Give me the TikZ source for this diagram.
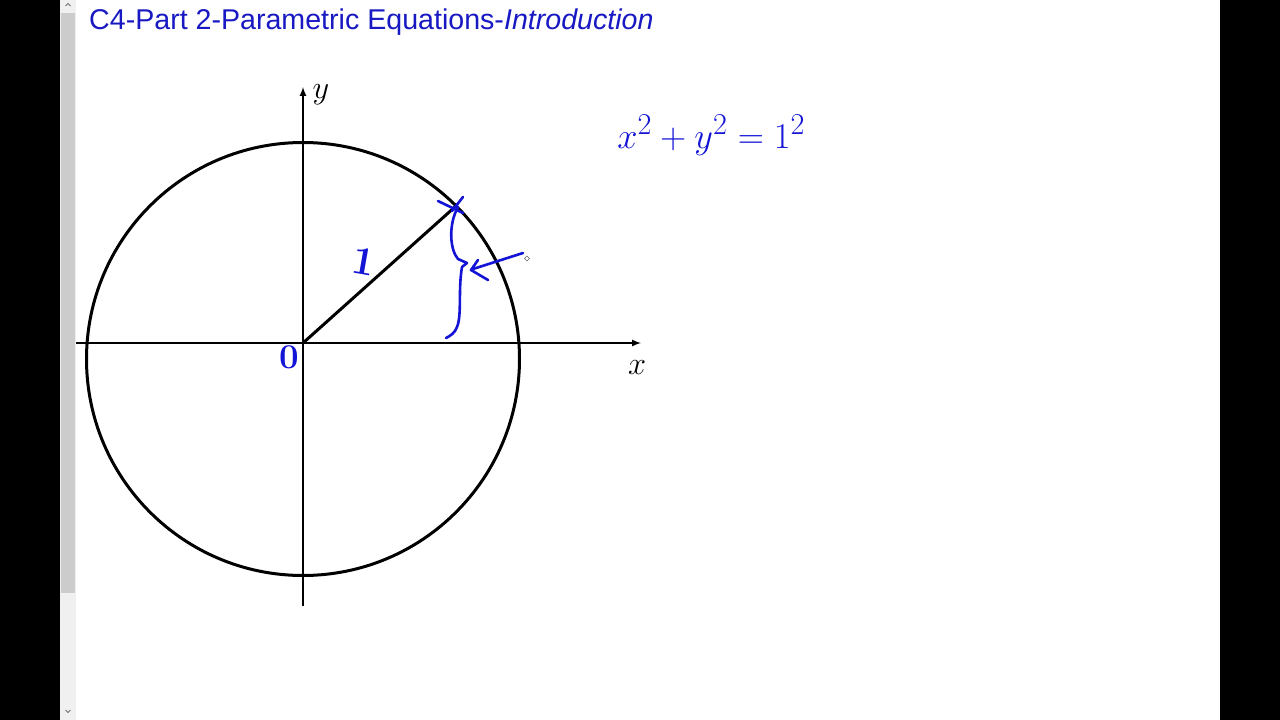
\documentclass[tikz,border=0pt]{standalone}
\usepackage{fontspec}
\usepackage{tikz}
\newfontfamily\arialfont{Liberation Sans}
\definecolor{titleblue}{RGB}{25,25,195}
\definecolor{penblue}{RGB}{20,20,215}

\begin{document}
\begin{tikzpicture}[x=1pt,y=-1pt,auto]

    % screen frame
    \fill[black] (0,0) rectangle (1280,720);
    \fill[white] (60,0) rectangle (1220,720);
    \fill[black!6] (60,0) rectangle (76,720);
    \fill[black!20] (61,13) rectangle (75,593);
    \draw[black!55, line width=0.8pt] (65.5,6) -- (68,3.5) -- (70.5,6);
    \draw[black!55, line width=0.8pt] (65.5,710) -- (68,712.5) -- (70.5,710);

    \node[anchor=base west, text=titleblue, font=\arialfont\fontsize{28.6}{32}\selectfont, inner sep=0pt] (title) at (89,29) {C4-Part 2-Parametric Equations-\textit{Introduction}};

    \coordinate (o) at (303,343);
    \coordinate (c) at (303,359);
    \coordinate (xl) at (76,343);
    \coordinate (xr) at (641,343);
    \coordinate (yb) at (303,606);
    \coordinate (yt) at (303,87);
    \coordinate (p) at (456,206);

    \draw[line width=3pt] (c) circle[radius=216.5pt];
    \draw[line width=2pt, -latex] (xl) to (xr);
    \draw[line width=2pt, -latex] (yb) to (yt);
    \draw[line width=3pt] (o) to (p);

    \node[font=\fontsize{24.88}{30}\selectfont, scale=1.3] (ylab) at (321,95) {$y$};
    \node[font=\fontsize{24.88}{30}\selectfont, scale=1.3] (xlab) at (637,368) {$x$};
    \node[text=penblue, font=\bfseries\fontsize{24.88}{30}\selectfont, scale=1.4] (zero) at (289,357) {0};
    \node[text=penblue, font=\bfseries\fontsize{40}{40}\selectfont, rotate=-10] (one) at (364,262) {1};

    \node[anchor=base west, text=penblue, font=\fontsize{24.88}{30}\selectfont, inner sep=0pt, scale=1.46] (eqn) at (617,148) {$x^2+y^2=1^2$};

    % brace, cross and pointer
    \draw[penblue, line width=2.6pt, line cap=round, line join=round]
        (458,207) .. controls (448,225) and (450,250) .. (458,259) -- (467,263)
        (467,263) -- (462,267) .. controls (458,290) and (462,315) .. (457,327)
        .. controls (455,333) and (450,336) .. (446,338);
    \draw[penblue, line width=2.6pt, line cap=round]
        (438,201) -- (463,213) (463,197) -- (452,211);
    \coordinate (tail) at (523,253);
    \coordinate (head) at (473,269);
    \draw[penblue, line width=2.6pt, line cap=round, line join=round]
        (tail) to (head) (478,260) -- (471,270) -- (488,280);
    \draw[black!60, line width=0.6pt] (527,256) -- (529.5,258.5) -- (527,261) -- (524.5,258.5) -- cycle;

\end{tikzpicture}
\end{document}
